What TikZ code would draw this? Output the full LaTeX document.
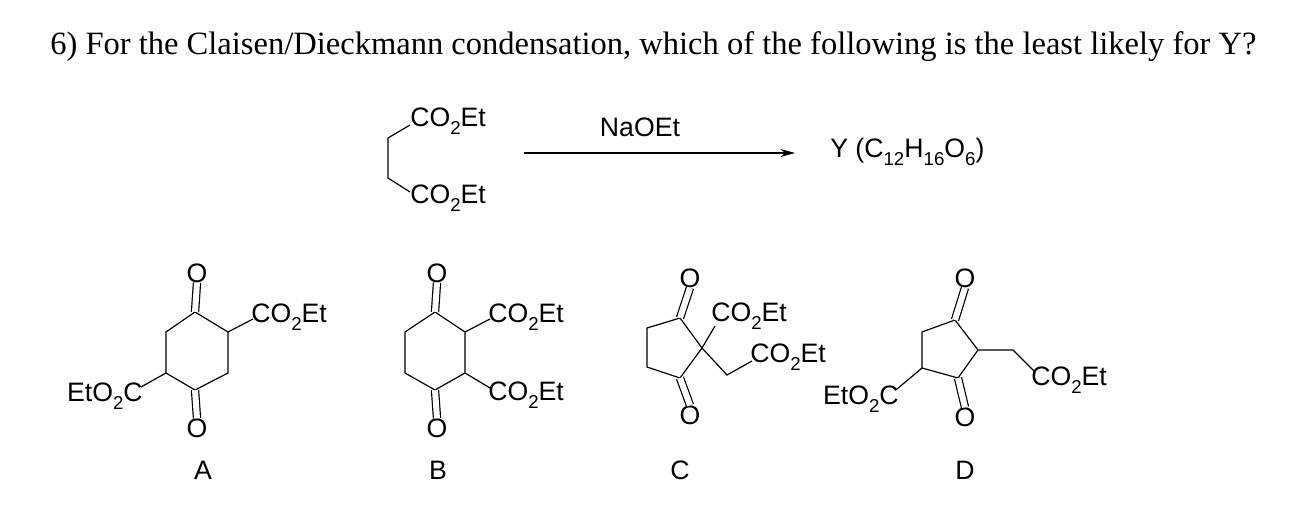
\documentclass[tikz,border=0pt]{standalone}
\usepackage{fontspec}
\setmainfont{Liberation Sans}
\newfontfamily\titlefont{Liberation Serif}
\usetikzlibrary{arrows.meta}
\tikzset{
  bond/.style={line width=0.9pt},
  lab/.style={inner sep=0pt, font=\fontsize{20}{23}\selectfont},
  dbl/.style={double, double distance=4.5pt, line width=0.9pt},
}
\newcommand{\sbs}[1]{\raisebox{-0.3em}{\fontsize{14}{16}\selectfont #1}}
\newcommand{\coet}{CO\sbs{2}Et}
\newcommand{\etoc}{EtO\sbs{2}C}
\begin{document}
\begin{tikzpicture}[x=0.75pt,y=-0.75pt]
\useasboundingbox (0,0) rectangle (1304,506);
\node[inner sep=0pt, anchor=west, font=\titlefont\fontsize{24.4}{28}\selectfont] (title) at (50,47) {6) For the Claisen/Dieckmann condensation, which of the following is the least likely for Y?};

% starting material
\node[lab, anchor=west] (s1) at (410,121) {\coet};
\node[lab, anchor=west] (s2) at (410,198) {\coet};
\coordinate (sa) at (388,138); \coordinate (sb) at (388,178);
\draw[bond] (s1.west |- 0,125) -- (sa) -- (sb) -- (s2.west |- 0,192);
\coordinate (ar1) at (524,153); \coordinate (ar2) at (795,153);
\draw[bond, -{Stealth[length=11pt,width=6pt]}] (ar1) -- (ar2);
\node[lab] (naoet) at (640,127) {NaOEt};
\node[lab, anchor=west] (Y) at (830,152) {Y (C\sbs{12}H\sbs{16}O\sbs{6})};

% A
\coordinate (a1) at (195,312); \coordinate (a2) at (228,332); \coordinate (a3) at (228,373);
\coordinate (a4) at (195,390); \coordinate (a5) at (166,373); \coordinate (a6) at (166,332);
\draw[bond] (a1)--(a2)--(a3)--(a4)--(a5)--(a6)--cycle;
\node[lab] (aO1) at (197,273) {O};
\node[lab] (aO2) at (197,428) {O};
\draw[dbl] (a1) -- (aO1.south);
\draw[dbl] (a4) -- (aO2.north);
\node[lab, anchor=west] (aR1) at (251,317) {\coet};
\node[lab, anchor=east] (aR2) at (143,396) {\etoc};
\draw[bond] (a2) -- (253,319);
\draw[bond] (a5) -- (141,387);
\node[lab] (lA) at (203,470) {A};

% B
\coordinate (b1) at (435,312); \coordinate (b2) at (465,332); \coordinate (b3) at (465,373);
\coordinate (b4) at (435,390); \coordinate (b5) at (405,373); \coordinate (b6) at (405,332);
\draw[bond] (b1)--(b2)--(b3)--(b4)--(b5)--(b6)--cycle;
\node[lab] (bO1) at (437,273) {O};
\node[lab] (bO2) at (437,428) {O};
\draw[dbl] (b1) -- (bO1.south);
\draw[dbl] (b4) -- (bO2.north);
\node[lab, anchor=west] (bR1) at (488,317) {\coet};
\node[lab, anchor=west] (bR2) at (488,395) {\coet};
\draw[bond] (b2) -- (490,319);
\draw[bond] (b3) -- (490,388);
\node[lab] (lB) at (438,470) {B};

% C
\coordinate (c1) at (680,318); \coordinate (c2) at (702,348); \coordinate (c3) at (680,378);
\coordinate (c4) at (647,367); \coordinate (c5) at (647,328);
\draw[bond] (c1)--(c2)--(c3)--(c4)--(c5)--cycle;
\node[lab] (cO1) at (690,278) {O};
\node[lab] (cO2) at (690,415) {O};
\draw[dbl] (c1) -- (cO1.south);
\draw[dbl] (c3) -- (cO2.north);
\node[lab, anchor=west] (cR1) at (711,316) {\coet};
\draw[bond] (c2) -- (715,326);
\coordinate (cc) at (727,375);
\node[lab, anchor=west] (cR2) at (750,357) {\coet};
\draw[bond] (c2) -- (cc) -- (752,361);
\node[lab] (lC) at (680,470) {C};

% D
\coordinate (d1) at (955,320); \coordinate (d2) at (978,350); \coordinate (d3) at (958,378);
\coordinate (d4) at (922,368); \coordinate (d5) at (922,332);
\draw[bond] (d1)--(d2)--(d3)--(d4)--(d5)--cycle;
\node[lab] (dO1) at (965,278) {O};
\node[lab] (dO2) at (965,417) {O};
\draw[dbl] (d1) -- (dO1.south);
\draw[dbl] (d3) -- (dO2.north);
\coordinate (dc) at (1013,350);
\node[lab, anchor=west] (dR1) at (1031,380) {\coet};
\draw[bond] (d2) -- (dc) -- (1034,371);
\node[lab, anchor=east] (dR2) at (899,399) {\etoc};
\draw[bond] (d4) -- (897,389);
\node[lab] (lD) at (965,470) {D};
\end{tikzpicture}
\end{document}
